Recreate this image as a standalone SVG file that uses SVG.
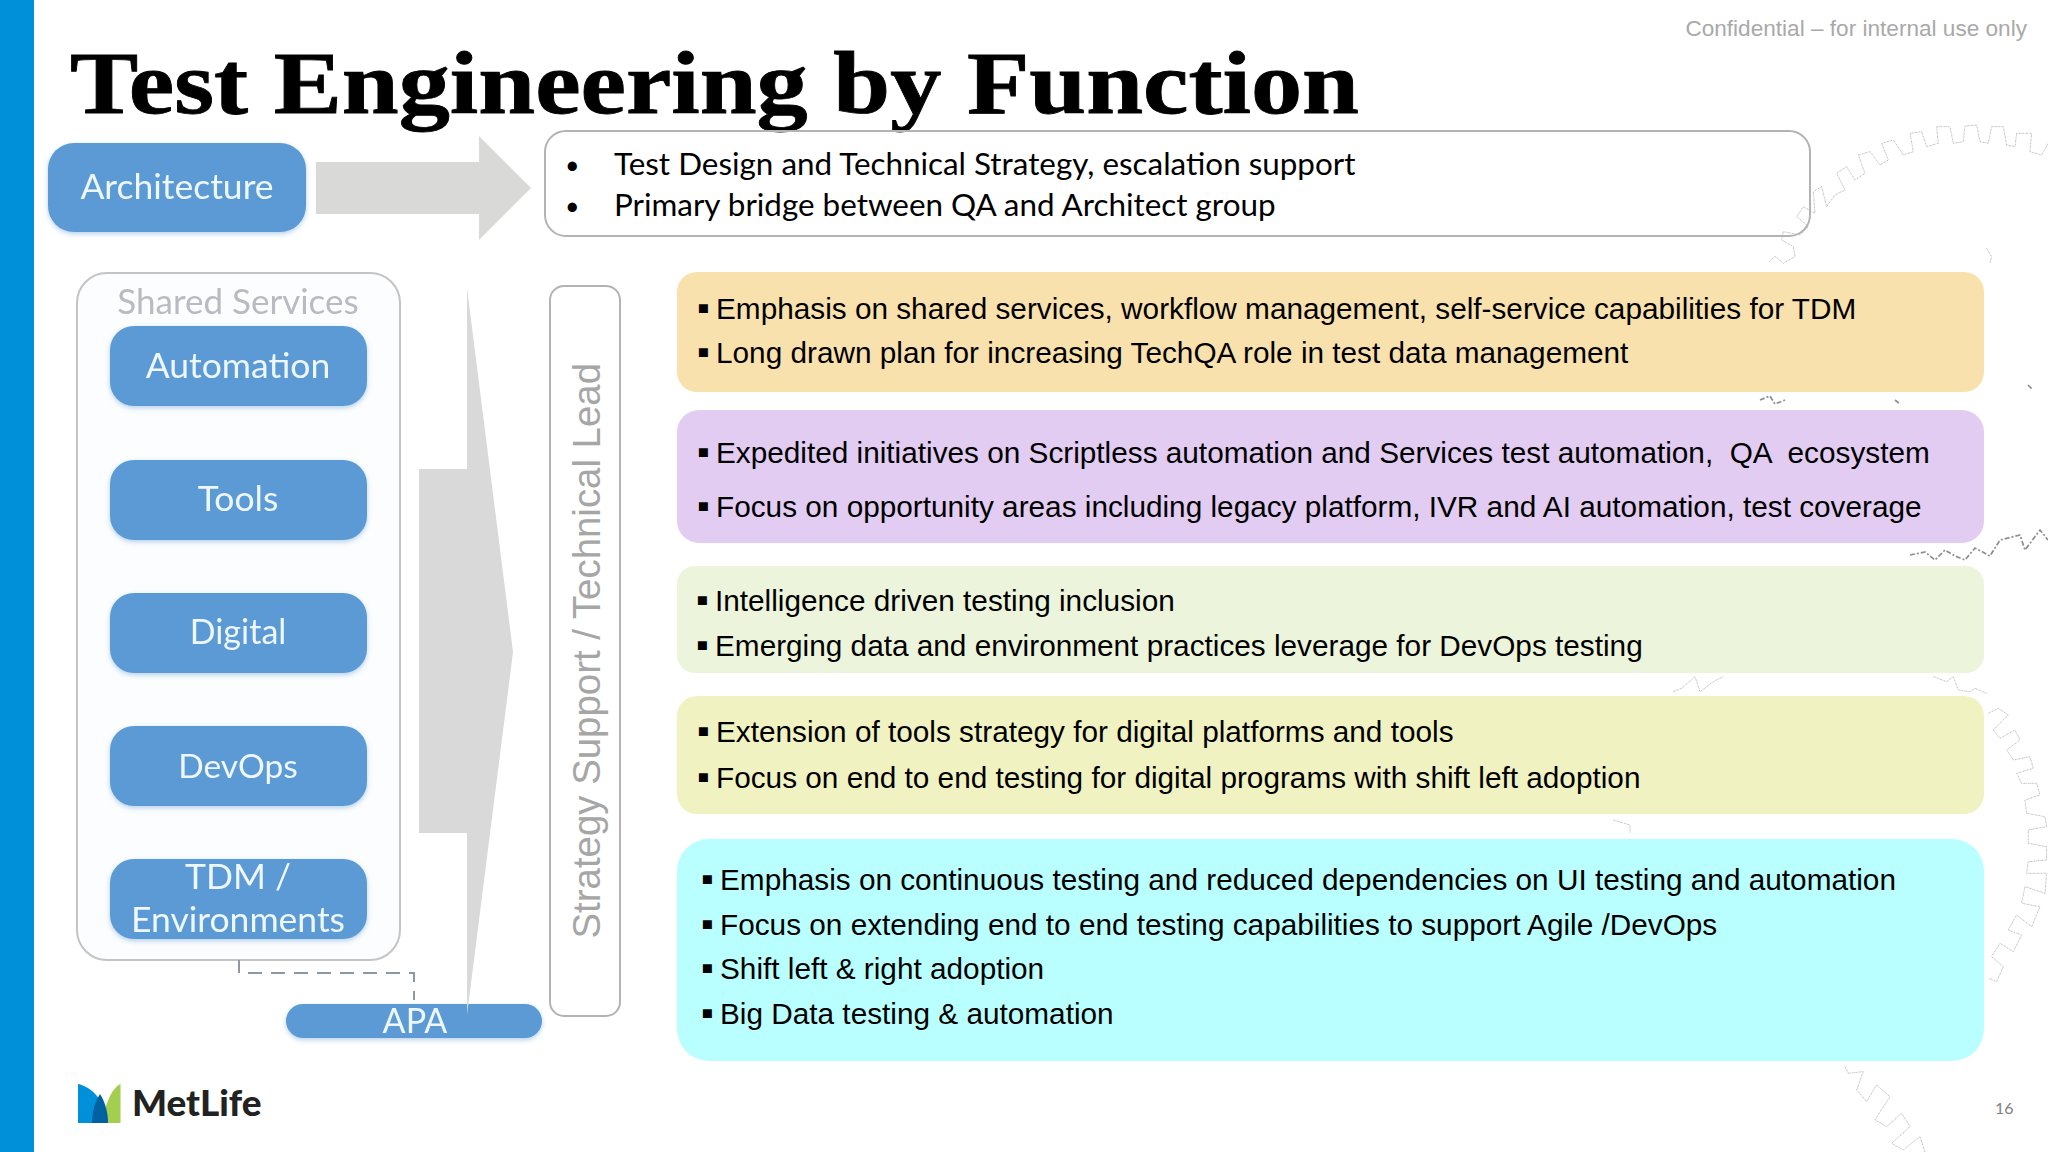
<svg xmlns="http://www.w3.org/2000/svg" width="2048" height="1152" viewBox="0 0 2048 1152">
<defs>
<style>
.t{font-family:"Liberation Sans",Arial,sans-serif;font-size:29.75px;fill:#000}
.b{font-family:"Liberation Sans",Arial,sans-serif;font-size:36px;fill:#000}
.c{font-family:Lato,"Open Sans",sans-serif;font-size:31.4px;fill:#000}
.d{font-family:Lato,"Open Sans",sans-serif;font-size:25px;fill:#000}
.p{fill:#5b9ad5;filter:url(#sh)}
.l{font-family:Lato,"Open Sans",sans-serif;font-size:35.5px;fill:#eef7fc;text-anchor:middle;filter:url(#soft)}
.g{fill:none;stroke:#8e8e8e;stroke-width:1.7;stroke-dasharray:5 2 2 2;stroke-linejoin:round}
.bx{stroke:#b3b3b3;stroke-width:2}
</style>
<filter id="sh" x="-10%" y="-20%" width="120%" height="140%"><feDropShadow dx="0" dy="2" stdDeviation="2.5" flood-color="#5b9ad5" flood-opacity=".45"/></filter>
<filter id="soft" x="-5%" y="-10%" width="110%" height="120%"><feGaussianBlur stdDeviation=".5"/></filter>
</defs>
<rect width="2048" height="1152" fill="#fff"/>
<rect id="band" width="34" height="1152" fill="#0090da"/>
<g id="gears">
<path class="g" transform="translate(1700 0) scale(.3333)" d="M208 785L225 768 250 790 285 770 280 740 245 720 250 695 300 705 325 680 290 650 310 620 345 640 340 575 365 560 380 620 405 585 435 570 410 520 440 500 465 540 495 520 475 465 510 455 540 495 565 480 545 430 580 420 610 465 640 455 630 400 665 395 680 440 715 430 710 380 750 380 760 430 790 425 795 378 830 375 840 425 865 430 875 380 910 380 920 435 945 440 950 400 995 400 990 455 1025 465 1045 430M860 745L875 770 870 790"/>
<path class="g" transform="translate(1600 640) scale(.3333)" d="M1000 110L1040 125 1060 110 1075 150 1110 155 1125 145 1160 160M1165 220L1195 205 1225 225 1180 270 1200 295 1245 270 1260 300 1220 330 1240 360 1290 350 1300 385 1250 400 1265 430 1310 430 1320 465 1275 480 1280 520 1335 530 1340 560 1285 570 1285 610 1340 620 1340 660 1285 665 1280 700 1340 700 1335 760 1275 740 1265 790 1320 800 1295 860 1250 825 1225 870 1265 885 1240 935 1200 910 1175 950 1210 980 1190 1025 1165 1015M735 1280L745 1300 790 1295 770 1350 800 1385 830 1335 870 1370 825 1440 860 1460 905 1420 930 1460 875 1510 910 1530 960 1490 975 1536M220 155L245 145 285 110 300 155 340 125 370 110M40 540L90 555 90 580"/>
<path class="g" d="M1910 555L1925 552 1935 560 1945 550 1955 556 1965 560 1975 548 1990 556 2000 540 2020 535 2025 550 2040 530 2048 540M1760 400L1770 396 1775 404 1785 400M1895 400L1900 404M2028 385L2032 389"/>
</g>
<text id="title" x="70" y="113" font-family="Liberation Serif,Times New Roman,serif" font-weight="700" font-size="89" fill="#000" stroke="#000" stroke-width=".8" textLength="1289" lengthAdjust="spacingAndGlyphs">Test Engineering by Function</text>
<text id="conf" x="2027" y="36" text-anchor="end" font-family="Liberation Sans,Arial,sans-serif" font-size="22.6" fill="#a9a9a9">Confidential – for internal use only</text>

<g id="architecture"><rect class="p" x="48" y="143" width="258" height="89" rx="26"/><text class="l" x="177" y="199">Architecture</text></g>
<g id="architecture-note">
<rect class="bx" x="545" y="131" width="1265" height="105" rx="21" fill="none"/>
<text class="d" x="565" y="174">•</text><text class="c" x="614" y="175">Test Design and Technical Strategy, escalation support</text>
<text class="d" x="565" y="215">•</text><text class="c" x="614" y="216">Primary bridge between QA and Architect group</text>
</g>
<g id="shared-services"><rect x="77" y="273" width="323" height="687" rx="30" fill="#fcfdfe" stroke="#c4c4c4" stroke-width="2"/><text x="238" y="314" text-anchor="middle" font-family="Lato,Open Sans,sans-serif" font-size="35" fill="#b8bcc2" filter="url(#soft)">Shared Services</text></g>
<g id="automation"><rect class="p" x="110" y="326" width="257" height="80" rx="24"/><text class="l" x="238" y="378">Automation</text></g>
<g id="tools"><rect class="p" x="110" y="460" width="257" height="80" rx="24"/><text class="l" x="238" y="511">Tools</text></g>
<g id="digital"><rect class="p" x="110" y="593" width="257" height="80" rx="24"/><text class="l" x="238" y="644" style="font-size:34px">Digital</text></g>
<g id="devops"><rect class="p" x="110" y="726" width="257" height="80" rx="24"/><text class="l" x="238" y="778" style="font-size:33.500px">DevOps</text></g>
<g id="tdm"><rect class="p" x="110" y="859" width="257" height="80" rx="24"/><text class="l" x="238" y="889">TDM /</text><text class="l" x="238" y="932">Environments</text></g>
<g id="apa"><rect class="p" x="286" y="1004" width="256" height="34" rx="17"/><text class="l" x="415" y="1033" style="font-size:34px">APA</text></g>
<g id="connectors">
<path d="M316 162H479V136L531 188 479 240V214H316Z" fill="#d9dad8"/>
<path d="M419 469H467V288L513 652 467 1015V833H419Z" fill="#d9d9da"/>
<path d="M239 960V973M248 973H414V1000" fill="none" stroke="#8a9aa5" stroke-width="2" stroke-dasharray="14 9"/>
</g>
<g id="strategy"><rect class="bx" x="550" y="286" width="70" height="730" rx="14" fill="none"/><text transform="translate(600 938.500) rotate(-90)" font-family="Liberation Sans,Arial,sans-serif" font-size="38.4" fill="#a6a6a6">Strategy Support / Technical Lead</text></g>

<g id="box-orange"><rect x="677" y="272" width="1307" height="120" rx="20" fill="#f9e1ae"/>
<text class="b" x="697" y="320">▪</text><text class="t" x="716" y="319">Emphasis on shared services, workflow management, self-service capabilities for TDM</text>
<text class="b" x="697" y="364">▪</text><text class="t" x="716" y="363">Long drawn plan for increasing TechQA role in test data management</text></g>
<g id="box-purple"><rect x="677" y="410" width="1307" height="133" rx="22" fill="#e2ccf2"/>
<text class="b" x="697" y="464">▪</text><text class="t" x="716" y="463" xml:space="preserve">Expedited initiatives on Scriptless automation and Services test automation,  QA  ecosystem</text>
<text class="b" x="697" y="518">▪</text><text class="t" x="716" y="517">Focus on opportunity areas including legacy platform, IVR and AI automation, test coverage</text></g>
<g id="box-green"><rect x="677" y="566" width="1307" height="107" rx="18" fill="#edf4dc"/>
<text class="b" x="696" y="612">▪</text><text class="t" x="715" y="611">Intelligence driven testing inclusion</text>
<text class="b" x="696" y="657">▪</text><text class="t" x="715" y="656">Emerging data and environment practices leverage for DevOps testing</text></g>
<g id="box-yellow"><rect x="677" y="696" width="1307" height="118" rx="20" fill="#f1f2c2"/>
<text class="b" x="697" y="743">▪</text><text class="t" x="716" y="742">Extension of tools strategy for digital platforms and tools</text>
<text class="b" x="697" y="789">▪</text><text class="t" x="716" y="788">Focus on end to end testing for digital programs with shift left adoption</text></g>
<g id="box-cyan"><rect x="677" y="839" width="1307" height="222" rx="32" fill="#baffff"/>
<text class="b" x="701" y="891">▪</text><text class="t" x="720" y="890">Emphasis on continuous testing and reduced dependencies on UI testing and automation</text>
<text class="b" x="701" y="936">▪</text><text class="t" x="720" y="935">Focus on extending end to end testing capabilities to support Agile /DevOps</text>
<text class="b" x="701" y="980">▪</text><text class="t" x="720" y="979">Shift left &amp; right adoption</text>
<text class="b" x="701" y="1025">▪</text><text class="t" x="720" y="1024">Big Data testing &amp; automation</text></g>

<g id="logo">
<path d="M120.500 1084V1123H78V1084C92 1088 100 1100 104 1112 108 1100 112 1088 120.500 1084Z" fill="#a4ce4e"/>
<path d="M78 1084C94 1088 105 1102 108 1123H78Z" fill="#0090da"/>
<path d="M92 1123C92 1110 96 1100 100 1094 105 1102 108 1112 108 1123Z" fill="#0061a0"/>
<text x="132" y="1116" font-family="Lato,sans-serif" font-weight="900" font-size="36.9" fill="#222">MetLife</text>
</g>
<text id="page" x="1995" y="1114" font-family="Lato,sans-serif" font-size="16" fill="#7f7f7f">16</text>
</svg>
